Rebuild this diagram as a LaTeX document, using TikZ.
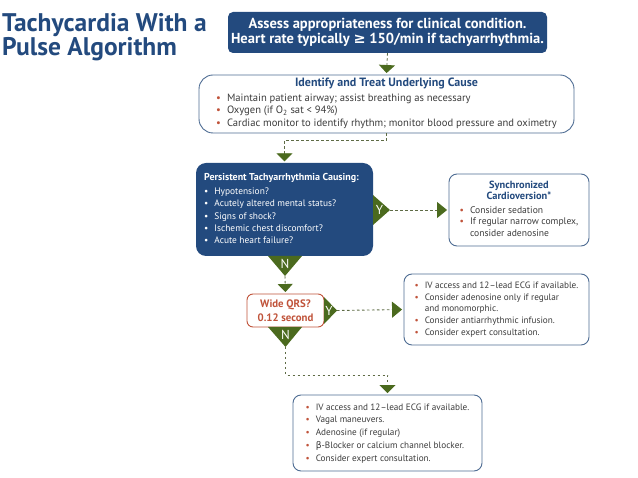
\documentclass[tikz,border=0pt]{standalone}
\usepackage{fontspec}
\setmainfont{PT Sans}
\newfontfamily\symf{DejaVu Sans}
\usetikzlibrary{arrows.meta}

\definecolor{ahablue}{HTML}{234A7E}
\definecolor{ahagreen}{HTML}{4B6A1E}
\definecolor{ahadash}{HTML}{5E6B45}
\definecolor{ahared}{HTML}{C0533A}
\definecolor{ahaframe}{HTML}{4E6C93}
\definecolor{ahatext}{HTML}{3C3C3C}

\newcommand{\blt}[1][ahared]{\textcolor{#1}{\textbullet}}

\tikzset{
	darkbox/.style={fill=ahablue, rounded corners=5pt, text=white, inner sep=0pt},
	whitebox/.style={draw=ahaframe, line width=0.9pt, fill=white, rounded corners=8pt, text=ahatext, inner sep=0pt},
	flow/.style={draw=ahadash, line width=0.9pt, dash pattern=on 2.5pt off 2.5pt},
	tipd/.style={-{Triangle[width=16pt,length=8pt,color=ahagreen,fill=ahagreen]}, shorten >=1.5pt},
	tipr/.style={-{Triangle[width=16pt,length=10pt,color=ahagreen,fill=ahagreen]}, shorten >=1.5pt},
	tip/.style={fill=ahagreen},
	yn/.style={text=white, font=\fontsize{13}{13}\selectfont, inner sep=0pt},
}

\begin{document}
\begin{tikzpicture}[x=1pt, y=-1pt]
		\useasboundingbox (0,0) rectangle (638,478);
		% title
		\node[anchor=north west, inner sep=0pt, align=left, text=ahablue, font=\fontsize{25.5}{23}\selectfont\bfseries] (title) at (2,13) {Tachycardia With a\\Pulse Algorithm};
		% boxes
		\node[darkbox, minimum width=319pt, minimum height=41pt, align=center, font=\fontsize{14.5}{15.5}\selectfont\bfseries] (assess) at (387.5,32.5) {Assess appropriateness for clinical condition.\\Heart rate typically {\symf ≥} 150/min if tachyarrhythmia.};
		\node[whitebox, rounded corners=14pt, minimum width=375pt, minimum height=58pt, font=\fontsize{10.6}{12.5}\selectfont] (cause) at (386.5,104) {\begin{tabular}{@{}l@{\hspace{6pt}}l@{}}
			\multicolumn{2}{c}{\textcolor{ahablue}{\bfseries\fontsize{12}{12.5}\selectfont Identify and Treat Underlying Cause}}\\[2pt]
			\blt & Maintain patient airway; assist breathing as necessary\\
			\blt & Oxygen (if O\textsubscript{2} sat < 94\%)\\
			\blt & Cardiac monitor to identify rhythm; monitor blood pressure and oximetry
		\end{tabular}};
		\node[darkbox, rounded corners=10pt, minimum width=177pt, minimum height=93pt, font=\fontsize{9.4}{12.3}\selectfont] (persist) at (284.5,209.5) {\begin{tabular}{@{}l@{\hspace{6pt}}l@{}}
			\multicolumn{2}{@{}l}{\bfseries\fontsize{10}{12}\selectfont Persistent Tachyarrhythmia Causing:}\\[2pt]
			\blt[white] & Hypotension?\\
			\blt[white] & Acutely altered mental status?\\
			\blt[white] & Signs of shock?\\
			\blt[white] & Ischemic chest discomfort?\\
			\blt[white] & Acute heart failure?
		\end{tabular}};
		\node[whitebox, minimum width=140pt, minimum height=72pt, font=\fontsize{9.6}{11.5}\selectfont] (sync) at (519,210) {\begin{tabular}{@{}l@{\hspace{6pt}}l@{}}
			\multicolumn{2}{c}{\textcolor{ahablue}{\bfseries\fontsize{10.4}{11}\selectfont Synchronized}}\\
			\multicolumn{2}{c}{\textcolor{ahablue}{\bfseries\fontsize{10.4}{11}\selectfont Cardioversion*}}\\[2pt]
			\blt & Consider sedation\\
			\blt & If regular narrow complex,\\
			& consider adenosine
		\end{tabular}};
		\node[draw=ahared, line width=0.9pt, fill=white, rounded corners=6pt, minimum width=77pt, minimum height=33pt, inner sep=0pt, align=center, text=ahared, font=\fontsize{10.8}{14}\selectfont\bfseries] (qrs) at (285.5,310.5) {Wide QRS?\\0.12 second};
		\node[whitebox, minimum width=185pt, minimum height=71pt, font=\fontsize{9.2}{11.8}\selectfont] (wide) at (496.5,309.5) {\begin{tabular}{@{}l@{\hspace{6pt}}l@{}}
			\blt & IV access and 12--lead ECG if available.\\
			\blt & Consider adenosine only if regular\\
			& and monomorphic.\\
			\blt & Consider antiarrhythmic infusion.\\
			\blt & Consider expert consultation.
		\end{tabular}};
		\node[whitebox, minimum width=189pt, minimum height=76pt, font=\fontsize{9.2}{12.75}\selectfont] (narrow) at (387.5,433) {\begin{tabular}{@{}l@{\hspace{6pt}}l@{}}
			\blt & IV access and 12--lead ECG if available.\\
			\blt & Vagal maneuvers.\\
			\blt & Adenosine (if regular)\\
			\blt & {\symf β}-Blocker or calcium channel blocker.\\
			\blt & Consider expert consultation.
		\end{tabular}};
		% Y and N markers
		\fill[tip] (373,195) -- (373,225) -- (390,210) -- cycle;
		\node[yn] (y1) at (379.5,210) {Y};
		\coordinate (y1tip) at (390,210);
		\fill[tip] (268,256) -- (302,256) -- (285,276) -- cycle;
		\node[yn] (n1) at (285,264) {N};
		\coordinate (n1tip) at (285,276);
		\fill[tip] (324,297) -- (324,324) -- (337,310.5) -- cycle;
		\node[yn] (y2) at (329,310.5) {Y};
		\coordinate (y2tip) at (337,310.5);
		\fill[tip] (268,327) -- (302,327) -- (285.5,347) -- cycle;
		\node[yn] (n2) at (285.5,335) {N};
		\coordinate (n2tip) at (285.5,347);
		% connectors
		\draw[flow, tipd] (assess.south) -- (cause.north);
		\draw[flow, tipd] (cause.south) -- ++(0,7) -| (persist.north);
		\draw[flow, tipr] (y1tip) -- (sync.west);
		\draw[flow, -{Triangle[width=15pt,length=8pt,color=ahagreen,fill=ahagreen]}, shorten >=1.5pt] (n1tip) -- (qrs.north);
		\draw[flow, tipr] (y2tip) -- (wide.west);
		\draw[flow, tipd] (n2tip) -- ++(0,28) -| (narrow.north);
	\end{tikzpicture}
\end{document}
